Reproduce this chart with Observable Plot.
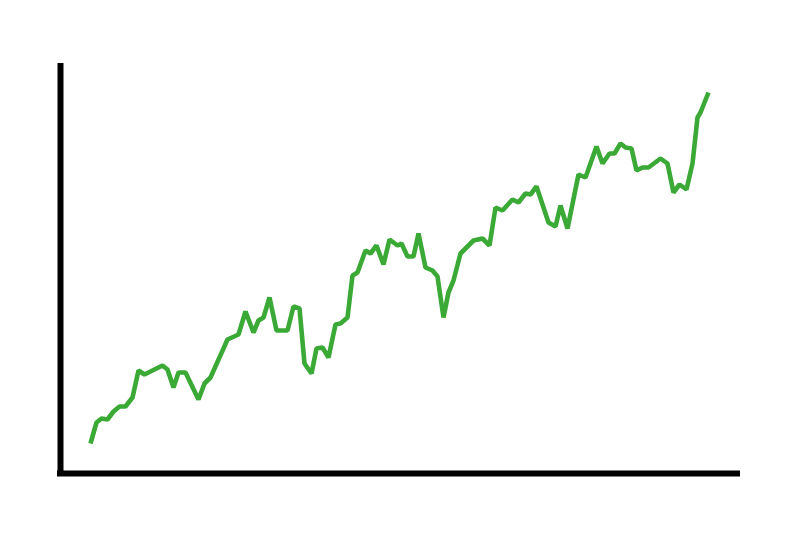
<!DOCTYPE html>
<html>
<head>
<meta charset="utf-8">
<script src="https://cdn.jsdelivr.net/npm/d3@7"></script>
<script src="https://cdn.jsdelivr.net/npm/@observablehq/plot@0.6"></script>
<style>
  html, body { margin: 0; padding: 0; background: #fff; }
  #chart svg { display: block; }
</style>
</head>
<body>
<div id="chart"></div>
<script>
const days = [30,36,41,47,53,59,65,72,78,84,102,107,113,118,125,138,144,150,167,178,185,193,198,203,209,216,227,233,239,244,251,256,262,268,275,280,287,292,297,305,310,316,323,329,337,341,347,353,358,365,372,377,383,388,393,400,407,413,422,429,435,442,452,458,465,470,476,483,488,495,500,507,518,525,536,542,549,554,560,565,571,576,582,588,600,607,613,619,626,632,637,640,648];
const values = [30,51,55,54,62,67,67,76,103,99,108,104,86,101,101,74,90,96,134,139,162,141,153,156,176,143,143,167,165,110,100,125,126,116,149,150,156,198,201,223,220,228,209,234,228,230,217,217,240,206,203,197,156,181,193,220,227,233,235,228,266,263,274,271,280,279,287,266,251,247,268,245,299,296,327,310,320,320,330,326,325,303,306,306,315,310,281,289,284,310,356,361,381];

const data = days.map((d, i) => ({day: d, value: values[i]}));

const chart = Plot.plot({
  width: 800,
  height: 534,
  marginLeft: 60,
  marginRight: 60,
  marginTop: 60,
  marginBottom: 61,
  x: {domain: [0, 680], axis: null},
  y: {domain: [0, 413], axis: null},
  marks: [
    Plot.line(data, {x: "day", y: "value", stroke: "#3aa936", strokeWidth: 4.6, strokeLinejoin: "miter", strokeLinecap: "butt"}),
    Plot.ruleX([0], {stroke: "#000", strokeWidth: 6, y1: 0, y2: 413, insetBottom: -3}),
    Plot.ruleY([0], {stroke: "#000", strokeWidth: 6, x1: 0, x2: 680, insetLeft: -3})
  ]
});
document.getElementById("chart").appendChild(chart);
</script>
</body>
</html>
